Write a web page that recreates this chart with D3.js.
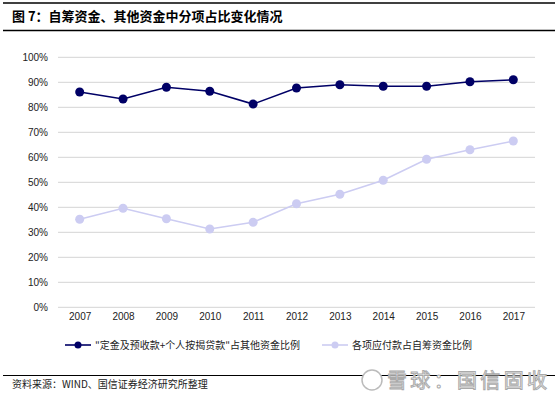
<!DOCTYPE html>
<html>
<head>
<meta charset="utf-8">
<script src="https://cdn.jsdelivr.net/npm/d3@7"></script>
<style>
  body { margin: 0; background: #fff; }
  svg { display: block; font-family: "Liberation Sans", Arial, sans-serif; }
  .cjk { font-family: "Noto Sans CJK SC", "Liberation Sans", sans-serif; }
</style>
</head>
<body>
<div id="chart"></div>
<script>
const years = ['2007', '2008', '2009', '2010', '2011', '2012', '2013', '2014', '2015', '2016', '2017'];
const depositShare = [86.1, 83.3, 88.0, 86.4, 81.3, 87.7, 89.0, 88.4, 88.4, 90.2, 91.0];
const payableShare = [35.2, 39.6, 35.4, 31.3, 34.0, 41.4, 45.2, 50.8, 59.2, 63.0, 66.5];
const yTicks = [0, 10, 20, 30, 40, 50, 60, 70, 80, 90, 100];
const seriesNames = ['"定金及预收款+个人按揭贷款"占其他资金比例', '各项应付款占自筹资金比例'];
const title = '图 7：自筹资金、其他资金中分项占比变化情况';
const source = '资料来源：WIND、国信证券经济研究所整理';

const width = 558, height = 396;
const svg = d3.select('#chart').append('svg')
  .attr('width', width)
  .attr('height', height);

// header rules + title
svg.append('line').attr('x1', 3).attr('x2', 555).attr('y1', 3).attr('y2', 3)
  .attr('stroke', '#000').attr('stroke-width', 1.5);
svg.append('line').attr('x1', 3).attr('x2', 555).attr('y1', 30.5).attr('y2', 30.5)
  .attr('stroke', '#000').attr('stroke-width', 1.5);
svg.append('text').attr('class', 'cjk')
  .attr('x', 12).attr('y', 21)
  .attr('font-size', 13).attr('font-weight', 'bold')
  .text(title);

const x = d3.scalePoint().domain(years).range([58, 535]).padding(0.5);
const y = d3.scaleLinear().domain([0, 100]).range([307.3, 57.3]);

// gridlines
svg.append('g')
  .selectAll('line')
  .data(yTicks)
  .enter()
  .append('line')
    .attr('x1', 58).attr('x2', 535)
    .attr('y1', d => y(d)).attr('y2', d => y(d))
    .attr('stroke', '#d4d4d4').attr('stroke-width', 1);

// y axis labels
const yAxis = d3.axisLeft(y).tickValues(yTicks).tickSize(0).tickPadding(0).tickFormat(d => d + '%');
svg.append('g')
  .attr('transform', 'translate(48,0)')
  .call(yAxis)
  .call(g => g.select('.domain').remove())
  .selectAll('text')
    .attr('font-size', 10).attr('fill', '#222')
    .attr('font-family', '"Liberation Sans", Arial, sans-serif');

// x axis labels
const xAxis = d3.axisBottom(x).tickSize(0).tickPadding(0);
svg.append('g')
  .attr('transform', 'translate(0,313)')
  .call(xAxis)
  .call(g => g.select('.domain').remove())
  .selectAll('text')
    .attr('font-size', 10).attr('fill', '#222')
    .attr('font-family', '"Liberation Sans", Arial, sans-serif');

const series = [
  { name: seriesNames[0], values: depositShare, color: '#000066' },
  { name: seriesNames[1], values: payableShare, color: '#ccccf2' }
];

const line = d3.line()
  .x((d, i) => x(years[i]))
  .y(d => y(d));

series.slice().reverse().forEach(s => {
  svg.append('path')
    .datum(s.values)
    .attr('d', line)
    .attr('fill', 'none')
    .attr('stroke', s.color)
    .attr('stroke-width', 1.6);
  svg.append('g')
    .selectAll('circle')
    .data(s.values)
    .enter()
    .append('circle')
      .attr('cx', (d, i) => x(years[i]))
      .attr('cy', d => y(d))
      .attr('r', 4.5)
      .attr('fill', s.color);
});

// legend
const legendX = [65, 322];
series.forEach((s, i) => {
  const g = svg.append('g').attr('transform', `translate(${legendX[i]},345)`);
  g.append('line').attr('x1', 0).attr('x2', 26).attr('y1', 0).attr('y2', 0)
    .attr('stroke', s.color).attr('stroke-width', 1.6);
  g.append('circle').attr('cx', 13).attr('cy', 0).attr('r', 3.5).attr('fill', s.color);
  g.append('text').attr('class', 'cjk')
    .attr('x', 30).attr('y', 4)
    .attr('font-size', 10).attr('fill', '#222')
    .text(s.name);
});

// source
svg.append('line').attr('x1', 3).attr('x2', 555).attr('y1', 375.5).attr('y2', 375.5)
  .attr('stroke', '#000').attr('stroke-width', 1.2);
svg.append('text').attr('class', 'cjk')
  .attr('x', 12).attr('y', 388)
  .attr('font-size', 10).attr('fill', '#222')
  .text(source);

// watermark
const wm = svg.append('g').attr('transform', 'translate(372,381)');
wm.append('circle').attr('cx', 0).attr('cy', -1).attr('r', 10)
  .attr('fill', '#fff').attr('stroke', '#bbb').attr('stroke-width', 1.5);
wm.append('text').attr('class', 'cjk')
  .attr('x', 15).attr('y', 7)
  .attr('font-size', 20).attr('fill', '#fff')
  .attr('stroke', '#aaa').attr('stroke-width', 1)
  .attr('textLength', 160).attr('lengthAdjust', 'spacing')
  .text('雪球：国信固收');
</script>
</body>
</html>
